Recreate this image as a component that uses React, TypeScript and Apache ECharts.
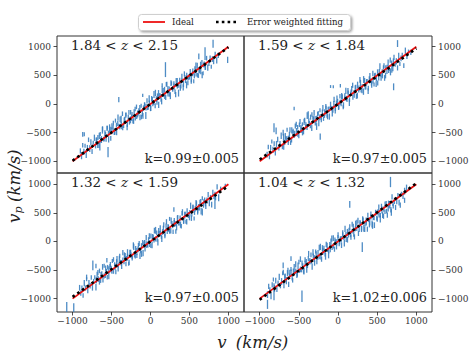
import React, { useEffect, useRef } from "react";
import * as echarts from "echarts";

const FONT = "DejaVu Serif";
const BLUE = "#3b7fbf";

const zRanges = [["1.84", "2.15"], ["1.59", "1.84"], ["1.32", "1.59"], ["1.04", "1.32"]];
const kLabels = ["k=0.99\u00b10.005", "k=0.97\u00b10.005", "k=0.97\u00b10.005", "k=1.02\u00b10.006"];
const fitK = [0.99, 0.97, 0.97, 1.02];
const lineX = [-1000, 1000];
const axisTicks = [-1000, -500, 0, 500, 1000];

// [v, v_p, error]
const panelTL = [[-900,-820,45],[-885,-905,60],[-870,-720,40],[-855,-835,55],[-840,-730,35],[-825,-875,70],[-810,-760,45],[-795,-625,40],[-780,-780,60],[-765,-665,50],[-750,-830,45],[-735,-675,35],[-720,-590,55],[-705,-735,40],[-690,-650,65],[-675,-585,45],[-660,-720,50],[-645,-525,35],[-630,-620,60],[-615,-435,45],[-600,-610,40],[-585,-515,55],[-570,-610,50],[-555,-415,35],[-540,-510,45],[-525,-425,70],[-510,-600,40],[-495,-385,50],[-480,-420,45],[-465,-485,55],[-450,-290,35],[-435,-485,60],[-420,-340,45],[-405,-385,40],[-390,-270,50],[-375,-375,65],[-360,-170,40],[-345,-375,45],[-330,-280,55],[-315,-185,35],[-300,-410,50],[-285,-235,45],[-270,-300,60],[-255,-145,40],[-240,-240,55],[-225,-305,35],[-210,-140,50],[-195,-245,45],[-180,-50,40],[-165,-175,60],[-150,-120,45],[-135,-235,50],[-120,-30,35],[-105,-165,55],[-90,-70,45],[-75,-15,40],[-60,-200,60],[-45,55,45],[-30,-50,50],[-15,25,35],[0,-70,55],[15,95,45],[30,0,40],[45,165,60],[60,-30,45],[75,85,50],[90,150,35],[105,-15,55],[120,150,40],[135,85,45],[150,250,60],[165,155,35],[180,250,50],[195,115,45],[210,350,40],[225,185,55],[240,260,45],[255,145,60],[270,360,35],[285,265,50],[300,350,45],[315,215,40],[330,400,55],[345,305,35],[360,190,60],[375,415,45],[390,320,50],[405,405,40],[420,290,55],[435,525,45],[450,400,35],[465,485,60],[480,370,45],[495,475,50],[510,570,40],[525,435,55],[540,530,45],[555,395,35],[570,600,60],[585,525,45],[600,670,50],[615,495,40],[630,600,55],[645,565,45],[660,710,60],[675,535,35],[690,690,50],[705,645,45],[720,800,40],[735,635,55],[750,710,45],[765,785,60],[780,650,35],[795,785,50],[810,740,45],[830,870,40],[850,760,55],[870,850,45],
[-407,75,45],[192,600,130],[803,1050,70],[990,770,55],[-870,-530,40],[-850,-530,35],[-545,-840,90],[-650,-735,75],[150,330,30],[700,880,110],[620,830,50],[-100,150,30]];
const panelTL2 = [[-697,-637,50],[-677,-727,40],[-657,-557,55],[-637,-627,45],[-617,-457,60],[-597,-617,40],[-577,-537,50],[-557,-427,45],[-537,-617,55],[-517,-437,40],[-497,-467,60],[-477,-337,45],[-457,-487,50],[-437,-367,40],[-417,-237,55],[-397,-397,45],[-377,-267,60],[-357,-417,40],[-337,-287,50],[-317,-197,45],[-297,-347,55],[-277,-147,40],[-257,-277,60],[-237,-187,45],[-217,-297,50],[-197,-87,40],[-177,-207,55],[-157,-157,45],[-137,-77,60],[-117,-227,40],[-97,-207,50],[-77,-17,45],[-57,-57,55],[-37,-67,40],[-17,93,60],[3,-77,45],[23,73,50],[43,23,40],[63,193,55],[83,33,45],[103,183,60],[123,133,40],[143,43,50],[163,233,45],[183,143,55],[203,343,40],[223,253,60],[243,173,45],[263,363,50],[283,273,40],[303,303,55],[323,163,45],[343,393,60],[363,323,40],[383,283,50],[403,483,45],[423,353,55],[443,463,40],[463,333,60],[483,463,45],[503,483,50],[523,393,40],[543,563,55],[563,493,45],[583,663,60],[603,503,40],[623,583,50],[643,693,45],[663,503,55],[683,683,40],[703,653,60]];

const panelTR = [[-905,-885,50],[-890,-750,40],[-875,-905,60],[-860,-760,45],[-845,-655,35],[-830,-800,55],[-815,-695,45],[-800,-860,40],[-785,-705,60],[-770,-620,50],[-755,-765,45],[-740,-680,35],[-725,-555,55],[-710,-750,40],[-695,-585,65],[-680,-670,45],[-665,-615,50],[-650,-450,35],[-635,-655,60],[-620,-530,45],[-605,-675,40],[-590,-460,55],[-575,-505,50],[-560,-560,35],[-545,-385,45],[-530,-490,70],[-515,-405,40],[-500,-550,50],[-485,-305,45],[-470,-450,55],[-455,-355,35],[-440,-470,60],[-425,-285,45],[-410,-360,40],[-395,-405,50],[-380,-190,65],[-365,-335,40],[-350,-230,45],[-335,-415,55],[-320,-240,35],[-305,-155,50],[-290,-330,45],[-275,-265,60],[-260,-180,40],[-245,-335,55],[-230,-110,35],[-215,-225,50],[-200,-140,45],[-185,-255,40],[-170,-150,60],[-155,-45,45],[-140,-190,50],[-125,-85,35],[-110,-220,55],[-95,-5,45],[-80,-80,40],[-65,-95,60],[-50,80,45],[-35,-115,50],[-20,30,35],[-5,35,55],[10,-50,45],[25,135,40],[40,20,60],[55,125,45],[70,-20,50],[85,95,35],[100,230,55],[115,75,40],[130,190,45],[145,25,60],[160,180,35],[175,265,50],[190,120,45],[205,205,40],[220,270,55],[235,135,45],[250,330,60],[265,235,35],[280,420,50],[295,245,45],[310,310,40],[325,215,55],[340,410,45],[355,315,60],[370,400,35],[385,225,50],[400,440,45],[415,405,40],[430,340,55],[445,535,45],[460,340,35],[475,485,60],[490,440,45],[505,555,50],[520,450,40],[535,655,55],[550,450,45],[565,545,60],[580,640,35],[595,455,50],[610,630,45],[625,565,40],[640,720,55],[655,625,45],[670,560,60],[685,725,35],[700,620,50],[715,815,45],[730,690,40],[745,745,55],[760,630,45],[775,835,60],[790,700,35],[805,795,50],[820,850,45],[840,670,40],[860,930,55],[880,830,45],[900,910,40],
[-817,-415,80],[-790,-470,60],[-560,-80,30],[-95,305,25],[-60,300,25],[30,320,30],[760,1055,60],[930,900,45],[-227,-570,55],[710,300,60],[-700,-500,50]];
const panelTR2 = [[-693,-753,45],[-673,-563,55],[-653,-603,40],[-633,-613,60],[-613,-453,45],[-593,-623,50],[-573,-473,40],[-553,-523,55],[-533,-353,45],[-513,-513,60],[-493,-363,40],[-473,-413,50],[-453,-503,45],[-433,-313,55],[-413,-403,40],[-393,-203,60],[-373,-293,45],[-353,-373,50],[-333,-183,40],[-313,-273,55],[-293,-253,45],[-273,-393,60],[-253,-163,40],[-233,-233,50],[-213,-273,45],[-193,-73,55],[-173,-203,40],[-153,-93,60],[-133,-223,45],[-113,-93,50],[-93,-73,40],[-73,-163,55],[-53,7,45],[-33,-63,60],[-13,107,40],[7,-53,50],[27,27,45],[47,137,55],[67,-53,40],[87,127,60],[107,97,45],[127,227,50],[147,77,40],[167,197,55],[187,327,45],[207,167,60],[227,297,40],[247,147,50],[267,277,45],[287,367,55],[307,227,40],[327,427,60],[347,297,45],[367,387,50],[387,277,40],[407,487,55],[427,367,45],[447,417,60],[467,497,40],[487,347,50],[507,367,45],[527,557,55],[547,517,40],[567,507,60],[587,667,45],[607,497,50],[627,647,40],[647,597,55],[667,767,45],[687,607,60],[707,757,40]];

const panelBL = [[-910,-810,50],[-895,-905,45],[-880,-830,60],[-865,-945,40],[-850,-730,55],[-835,-815,45],[-820,-660,35],[-805,-845,60],[-790,-720,45],[-775,-775,50],[-760,-630,40],[-745,-805,55],[-730,-700,45],[-715,-625,35],[-700,-800,60],[-685,-575,45],[-670,-660,50],[-655,-515,40],[-640,-670,55],[-625,-565,45],[-610,-660,60],[-595,-425,35],[-580,-590,50],[-565,-525,45],[-550,-450,40],[-535,-605,55],[-520,-440,45],[-505,-485,60],[-490,-340,35],[-475,-515,50],[-460,-410,45],[-445,-535,40],[-430,-310,55],[-415,-415,45],[-400,-310,60],[-385,-355,35],[-370,-430,50],[-355,-195,45],[-340,-360,40],[-325,-255,55],[-310,-300,45],[-295,-195,60],[-280,-390,35],[-265,-195,50],[-250,-240,45],[-235,-295,40],[-220,-70,55],[-205,-235,45],[-190,-140,60],[-175,-255,35],[-160,-140,50],[-145,-35,45],[-130,-170,40],[-115,-215,55],[-100,-20,45],[-85,-55,60],[-70,-140,35],[-55,65,50],[-40,-50,45],[-25,35,40],[-10,-40,55],[5,95,45],[20,-60,60],[35,85,35],[50,190,50],[65,45,45],[80,150,40],[95,-15,55],[110,140,45],[125,225,60],[140,80,35],[155,165,50],[170,290,45],[185,95,40],[200,260,55],[215,175,45],[230,230,60],[245,395,35],[260,190,50],[275,315,45],[290,170,40],[305,355,55],[320,310,45],[335,255,60],[350,430,35],[365,325,50],[380,410,45],[395,265,40],[410,510,55],[425,365,45],[440,460,60],[455,345,35],[470,530,50],[485,455,45],[500,410,40],[515,625,55],[530,480,45],[545,585,60],[560,400,35],[575,575,50],[590,660,45],[605,535,40],[620,600,55],[635,685,45],[650,530,60],[665,755,35],[680,640,50],[695,725,45],[710,610,40],[725,715,55],[740,820,45],[755,675,60],[770,780,35],[785,645,50],[800,860,45],[815,785,40],[835,775,55],[855,955,45],[875,765,60],[900,920,40],
[-1075,-1150,90],[-985,-1160,80],[-740,-420,85],[-700,-430,40],[-560,-330,40],[827,720,150],[960,960,50],[-820,-620,40],[300,560,40]];
const panelBL2 = [[-695,-675,55],[-675,-545,45],[-655,-695,60],[-635,-575,40],[-615,-445,50],[-595,-605,45],[-575,-475,55],[-555,-625,40],[-535,-495,60],[-515,-405,45],[-495,-515,50],[-475,-315,40],[-455,-445,55],[-435,-355,45],[-415,-465,60],[-395,-255,40],[-375,-375,50],[-355,-325,45],[-335,-245,55],[-315,-395,40],[-295,-275,60],[-275,-365,45],[-255,-195,50],[-235,-265,40],[-215,-95,55],[-195,-255,45],[-175,-175,60],[-155,-65,40],[-135,-255,50],[-115,-75,45],[-95,-205,55],[-75,-15,40],[-55,-55,60],[-35,-65,45],[-15,95,50],[5,-75,40],[25,75,55],[45,25,45],[65,195,60],[85,35,40],[105,185,50],[125,135,45],[145,45,55],[165,235,40],[185,145,60],[205,345,45],[225,255,50],[245,175,40],[265,365,55],[285,275,45],[305,315,60],[325,175,40],[345,405,50],[365,335,45],[385,295,55],[405,495,40],[425,365,60],[445,475,45],[465,345,50],[485,475,40],[505,495,55],[525,405,45],[545,575,60],[565,505,40],[585,675,50],[605,515,45],[625,595,55],[645,705,40],[665,515,60],[685,695,45],[705,665,50]];

const panelBR = [[-900,-930,60],[-885,-785,45],[-870,-840,40],[-855,-955,55],[-840,-760,45],[-825,-665,35],[-810,-820,60],[-795,-685,50],[-780,-840,45],[-765,-725,40],[-750,-620,55],[-735,-775,45],[-720,-700,60],[-705,-555,35],[-690,-770,50],[-675,-605,45],[-660,-660,40],[-645,-555,55],[-630,-750,45],[-615,-555,60],[-600,-480,35],[-585,-635,50],[-570,-520,45],[-555,-545,40],[-540,-400,55],[-525,-595,45],[-510,-430,60],[-495,-515,35],[-480,-310,50],[-465,-495,45],[-450,-420,40],[-435,-525,55],[-420,-320,45],[-405,-365,60],[-390,-430,35],[-375,-215,50],[-360,-360,45],[-345,-235,40],[-330,-440,55],[-315,-255,45],[-300,-300,60],[-285,-175,35],[-270,-350,50],[-255,-195,45],[-240,-270,40],[-225,-95,55],[-210,-310,45],[-195,-175,60],[-180,-110,35],[-165,-215,50],[-150,-50,45],[-135,-145,40],[-120,-240,55],[-105,-55,45],[-90,-10,60],[-75,-115,35],[-60,60,50],[-45,-135,45],[-30,0,40],[-15,-15,55],[0,70,45],[15,-25,60],[30,50,35],[45,-65,50],[60,150,45],[75,65,40],[90,220,55],[105,35,45],[120,160,60],[135,105,35],[150,250,50],[165,75,45],[180,180,40],[195,255,55],[210,80,45],[225,305,60],[240,220,35],[255,365,50],[270,210,45],[285,315,40],[300,220,55],[315,395,45],[330,230,60],[345,295,35],[360,370,50],[375,215,45],[390,380,40],[405,335,55],[420,480,45],[435,305,60],[450,410,35],[465,285,50],[480,510,45],[495,405,40],[510,510,55],[525,465,45],[540,390,60],[555,625,35],[570,460,50],[585,565,45],[600,520,40],[615,655,55],[630,460,45],[645,655,60],[660,610,35],[675,555,50],[690,780,45],[705,615,40],[720,710,55],[735,595,45],[750,710,60],[765,815,35],[780,680,50],[795,635,45],[810,830,40],[830,800,55],[850,720,45],[875,935,60],
[-817,-880,150],[-460,-960,100],[310,-100,85],[670,1040,90],[-600,-300,40],[-700,-420,50],[150,650,60],[850,880,60],[-900,-1100,80]];
const panelBR2 = [[-699,-539,45],[-679,-629,55],[-659,-709,40],[-639,-519,60],[-619,-609,45],[-599,-539,50],[-579,-679,40],[-559,-449,55],[-539,-519,45],[-519,-559,60],[-499,-359,40],[-479,-489,50],[-459,-379,45],[-439,-509,55],[-419,-379,40],[-399,-489,60],[-379,-299,45],[-359,-339,50],[-339,-349,40],[-319,-189,55],[-299,-379,45],[-279,-229,60],[-259,-279,40],[-239,-109,50],[-219,-269,45],[-199,-119,55],[-179,-169,40],[-159,-259,60],[-139,-69,45],[-119,-159,50],[-99,-149,40],[-79,51,55],[-59,-79,45],[-39,11,60],[-19,-99,40],[1,111,50],[21,-9,45],[41,41,55],[61,121,40],[81,-29,60],[101,121,45],[121,31,50],[141,201,40],[161,131,55],[181,301,45],[201,141,60],[221,221,40],[241,331,50],[261,141,45],[281,321,55],[301,231,40],[321,361,60],[341,211,45],[361,331,50],[381,461,40],[401,301,55],[421,431,45],[441,281,60],[461,411,40],[481,501,50],[501,391,45],[521,591,55],[541,461,40],[561,551,60],[581,441,45],[601,651,50],[621,531,40],[641,581,55],[661,661,45],[681,511,60],[701,661,40]];

const panels = [[...panelTL, ...panelTL2], [...panelTR, ...panelTR2], [...panelBL, ...panelBL2], [...panelBR, ...panelBR2]];

const grids = [
  { left: 57, top: 36, width: 187, height: 137 },
  { left: 244, top: 36, width: 188, height: 137 },
  { left: 57, top: 173, width: 187, height: 139 },
  { left: 244, top: 173, width: 188, height: 139 },
];
const yRanges = [[-1205, 1187], [-1205, 1187], [-1234, 1198], [-1234, 1198]];

const fmt = (v: number) => String(v).replace("-", "\u2212");

export default function App() {
  const ref = useRef<HTMLDivElement>(null);
  useEffect(() => {
    if (!ref.current) return;
    const chart = echarts.init(ref.current, null, { renderer: "svg" });
    const xAxis: any[] = [];
    const yAxis: any[] = [];
    const series: any[] = [];
    const graphic: any[] = [];
    grids.forEach((g, i) => {
      const bottom = i >= 2;
      const right = i % 2 === 1;
      xAxis.push({
        type: "value", gridIndex: i, min: -1200, max: 1200, position: "bottom",
        splitLine: { show: false }, axisLine: { show: false, onZero: false },
        axisTick: { show: bottom, inside: false, length: 3.5, lineStyle: { color: "#222", width: 0.8 }, customValues: axisTicks },
        axisLabel: { show: bottom, margin: 4, fontFamily: FONT, fontSize: 9, color: "#333", customValues: axisTicks, formatter: fmt },
      });
      yAxis.push({
        type: "value", gridIndex: i, min: yRanges[i][0], max: yRanges[i][1], position: right ? "right" : "left",
        splitLine: { show: false }, axisLine: { show: false, onZero: false },
        axisTick: { show: true, inside: false, length: 3.5, lineStyle: { color: "#222", width: 0.8 }, customValues: axisTicks },
        axisLabel: { show: true, margin: 6, fontFamily: FONT, fontSize: 9, color: "#333", customValues: axisTicks, formatter: fmt },
      });
      series.push({
        type: "custom", xAxisIndex: i, yAxisIndex: i, clip: true, z: 1,
        data: panels[i], encode: { x: 0, y: 1 },
        renderItem: (_p: any, api: any) => {
          const x = api.value(0), y = api.value(1), e = api.value(2);
          const a = api.coord([x, y - e]);
          const b = api.coord([x, y + e]);
          return { type: "line", shape: { x1: a[0], y1: a[1], x2: b[0], y2: b[1] }, style: { stroke: BLUE, lineWidth: 1.3, opacity: 0.9 } };
        },
      });
      series.push({
        type: "line", name: "Ideal", xAxisIndex: i, yAxisIndex: i, z: 3, symbol: "none",
        data: lineX.map((v) => [v, v]),
        lineStyle: { color: "#ee1111", width: 1.8 },
      });
      series.push({
        type: "line", name: "Error weighted fitting", xAxisIndex: i, yAxisIndex: i, z: 4, symbol: "none",
        data: lineX.map((v) => [v, v * fitK[i]]),
        lineStyle: { color: "#000", width: 2.6, type: [2.6, 3.2], cap: "butt" },
      });
      graphic.push({
        type: "text", left: g.left + 14, top: g.top + 2,
        style: {
          text: `${zRanges[i][0]} < {i|z} < ${zRanges[i][1]}`,
          font: `13.5px '${FONT}'`, fill: "#222",
          rich: { i: { fontFamily: FONT, fontStyle: "italic", fontSize: 13.5, fill: "#222" } },
        },
      });
      graphic.push({
        type: "text", x: g.left + g.width - 5, y: g.top + g.height - 8,
        style: { text: kLabels[i], font: `12.8px '${FONT}'`, fill: "#222", align: "right", verticalAlign: "bottom" },
      });
    });
    // legend
    graphic.push(
      { type: "rect", shape: { x: 138.5, y: 14.5, width: 212, height: 16, r: 3 },
        style: { fill: "#fff", stroke: "#cfcfcf", lineWidth: 1, shadowBlur: 2, shadowOffsetX: 1.5, shadowOffsetY: 1.5, shadowColor: "rgba(0,0,0,0.35)" } },
      { type: "line", shape: { x1: 143, y1: 22, x2: 165, y2: 22 }, style: { stroke: "#ee1111", lineWidth: 1.8 } },
      { type: "text", x: 172, y: 22, style: { text: "Ideal", font: `8.6px '${FONT}'`, fill: "#222", verticalAlign: "middle" } },
      { type: "line", shape: { x1: 216, y1: 22, x2: 238, y2: 22 }, style: { stroke: "#000", lineWidth: 2.6, lineDash: [2.6, 3.2] } },
      { type: "text", x: 247, y: 22, style: { text: "Error weighted fitting", font: `8.6px '${FONT}'`, fill: "#222", verticalAlign: "middle" } },
    );
    // axis titles
    graphic.push(
      { type: "text", x: 222, y: 342, style: { text: "v", font: `italic 16.5px '${FONT}'`, fill: "#222", align: "center", verticalAlign: "middle" } },
      { type: "text", x: 262, y: 342, style: { text: "(km/s)", font: `italic 16.5px '${FONT}'`, fill: "#222", align: "center", verticalAlign: "middle" } },
      { type: "group", x: 14, y: 188, rotation: Math.PI / 2, children: [
        { type: "text", x: -35, y: 0, style: { text: "v", font: `italic 16.5px '${FONT}'`, fill: "#222", verticalAlign: "middle" } },
        { type: "text", x: -25.5, y: 4, style: { text: "p", font: `italic 11px '${FONT}'`, fill: "#222", verticalAlign: "middle" } },
        { type: "text", x: -14, y: 0, style: { text: "(km/s)", font: `italic 16.5px '${FONT}'`, fill: "#222", verticalAlign: "middle" } },
      ] },
    );
    chart.setOption({
      animation: false,
      backgroundColor: "#fff",
      grid: grids.map((g) => ({ ...g, show: true, borderColor: "#333", borderWidth: 1, backgroundColor: "transparent" })),
      xAxis, yAxis, series, graphic,
    });
    return () => chart.dispose();
  }, []);
  return <div ref={ref} style={{ position: "absolute", left: 0, top: 0, width: 474, height: 355 }} />;
}
